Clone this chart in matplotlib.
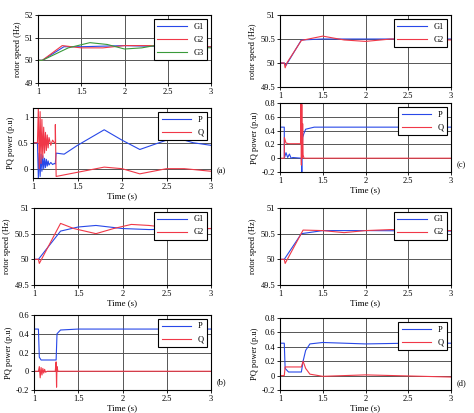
import matplotlib
matplotlib.use("Agg")
import matplotlib.pyplot as plt

plt.rcParams['font.family'] = ['Liberation Serif', 'DejaVu Serif']
plt.rcParams['font.size'] = 6

BLUE = '#2848e8'; RED = '#f03848'; GREEN = '#3a9a3a'

# (a) speed
a_g1_t = [1, 1.05, 1.3, 1.5, 2.0, 2.5, 3.0]
a_g1_v = [50, 50, 50.6, 50.6, 50.65, 50.6, 50.6]
a_g2_t = [1, 1.05, 1.28, 1.5, 1.75, 2.0, 2.3, 2.6, 3.0]
a_g2_v = [50, 50, 50.65, 50.55, 50.55, 50.65, 50.65, 50.55, 50.6]
a_g3_t = [1, 1.05, 1.35, 1.6, 1.8, 2.0, 2.2, 2.45, 2.7, 3.0]
a_g3_v = [50, 50, 50.55, 50.78, 50.7, 50.5, 50.55, 50.72, 50.6, 50.55]
# (a) power
a_p_t = [1, 1.05, 1.06, 1.07, 1.08, 1.09, 1.1, 1.11, 1.12, 1.13, 1.14, 1.15, 1.16, 1.17, 1.18, 1.2, 1.22, 1.24, 1.25, 1.26, 1.35, 1.5, 1.8, 2.0, 2.2, 2.5, 2.6, 2.8, 3.0]
a_p_v = [0.5, 0.5, -0.18, 0.3, -0.15, 0.28, -0.05, 0.25, 0.0, 0.2, 0.02, 0.18, 0.05, 0.15, 0.07, 0.12, 0.08, 0.1, 0.09, 0.3, 0.28, 0.45, 0.75, 0.55, 0.37, 0.55, 0.6, 0.5, 0.45]
a_q_t = [1, 1.05, 1.06, 1.07, 1.08, 1.09, 1.1, 1.11, 1.12, 1.13, 1.14, 1.15, 1.16, 1.17, 1.18, 1.2, 1.22, 1.24, 1.25, 1.251, 1.26, 1.5, 1.8, 2.0, 2.2, 2.5, 2.7, 3.0]
a_q_v = [0.5, 0.5, 1.17, 0.0, 1.1, 0.1, 0.95, 0.2, 0.8, 0.3, 0.7, 0.35, 0.65, 0.4, 0.6, 0.45, 0.55, 0.5, 0.5, 0.85, -0.15, -0.07, 0.03, 0.0, -0.1, 0.0, 0.0, -0.05]

# (c) speed
c_g1_t = [1, 1.05, 1.07, 1.25, 1.5, 3.0]
c_g1_v = [50, 50, 49.95, 50.48, 50.5, 50.5]
c_g2_t = [1, 1.05, 1.06, 1.08, 1.25, 1.5, 1.75, 2.0, 2.3, 3.0]
c_g2_v = [50, 50, 49.9, 50.0, 50.47, 50.56, 50.48, 50.45, 50.5, 50.48]
# (c) power
c_p_t = [1, 1.05, 1.051, 1.07, 1.09, 1.11, 1.13, 1.15, 1.25, 1.255, 1.265, 1.28, 1.3, 1.4, 3.0]
c_p_v = [0.45, 0.45, 0.0, 0.08, 0.01, 0.06, 0.0, 0.01, 0.0, -0.2, 0.3, 0.36, 0.42, 0.45, 0.45]
c_q_t = [1, 1.05, 1.051, 1.07, 1.1, 1.24, 1.245, 1.25, 1.255, 1.26, 1.265, 1.27, 1.28, 1.3, 3.0]
c_q_v = [0.0, 0.0, 0.3, 0.22, 0.21, 0.21, 0.8, -0.1, 0.78, 0.0, 0.5, 0.05, 0.0, 0.0, 0.0]

# (b) speed
b_g1_t = [1, 1.05, 1.3, 1.5, 1.7, 2.0, 2.3, 3.0]
b_g1_v = [50, 50, 50.55, 50.63, 50.66, 50.6, 50.58, 50.6]
b_g2_t = [1, 1.05, 1.06, 1.3, 1.45, 1.7, 1.9, 2.1, 2.3, 2.6, 3.0]
b_g2_v = [50, 50, 49.92, 50.7, 50.6, 50.5, 50.6, 50.68, 50.66, 50.6, 50.6]
# (b) power
b_p_t = [1, 1.05, 1.06, 1.08, 1.23, 1.25, 1.26, 1.3, 1.5, 3.0]
b_p_v = [0.45, 0.45, 0.15, 0.12, 0.12, 0.12, 0.4, 0.44, 0.45, 0.45]
b_q_t = [1, 1.05, 1.06, 1.07, 1.08, 1.09, 1.1, 1.11, 1.12, 1.13, 1.15, 1.24, 1.25, 1.255, 1.26, 1.27, 1.3, 3.0]
b_q_v = [0, 0, 0.05, -0.07, 0.04, -0.04, 0.03, -0.02, 0.02, -0.01, 0, 0, 0.1, -0.17, 0.05, 0, 0, 0]

# (d) speed
d_g1_t = [1, 1.05, 1.25, 1.5, 2.0, 3.0]
d_g1_v = [50, 50, 50.5, 50.56, 50.56, 50.55]
d_g2_t = [1, 1.05, 1.06, 1.27, 1.5, 1.75, 2.0, 2.3, 3.0]
d_g2_v = [50, 50, 49.92, 50.57, 50.56, 50.52, 50.56, 50.58, 50.56]
# (d) power
d_p_t = [1, 1.05, 1.06, 1.1, 1.25, 1.27, 1.3, 1.35, 1.5, 2.0, 2.5, 3.0]
d_p_v = [0.45, 0.45, 0.1, 0.05, 0.05, 0.2, 0.35, 0.44, 0.46, 0.44, 0.45, 0.45]
d_q_t = [1, 1.05, 1.06, 1.25, 1.27, 1.3, 1.35, 1.5, 2.0, 3.0]
d_q_v = [0, 0, 0.12, 0.12, 0.2, 0.1, 0.02, -0.01, 0.01, -0.02]

W, H = 474, 413
fig = plt.figure(figsize=(W/100, H/100), dpi=100)

def ax_px(x0, y0, x1, y1):
    return fig.add_axes([x0/W, 1-y1/H, (x1-x0)/W, (y1-y0)/H])

def style(ax, ylim, yticks, xlabel, ylabel, label=None):
    ax.set_xlim(1, 3); ax.set_ylim(*ylim)
    ax.set_xticks([1, 1.5, 2, 2.5, 3]); ax.set_xticklabels(['1', '1.5', '2', '2.5', '3'])
    ax.set_yticks(yticks)
    ax.set_yticklabels([('%g' % v) for v in yticks])
    ax.grid(True, color='#555555', lw=0.7)
    ax.tick_params(length=2, width=0.6, pad=1.5, labelsize=6)
    for s in ax.spines.values(): s.set_linewidth(0.8)
    if xlabel: ax.set_xlabel('Time (s)', fontsize=6.5, labelpad=1)
    ax.set_ylabel(ylabel, fontsize=6, labelpad=2)
    leg = ax.legend(loc='upper right', fontsize=6, fancybox=False, framealpha=1,
                    edgecolor='black', handlelength=3.5, borderpad=0.4, labelspacing=0.6)
    leg.get_frame().set_linewidth(0.8)
    for t in leg.get_texts(): t.set_ha('right')
    leg._legend_box.align = 'right'
    if label: ax.text(1.03, 0.1, label, transform=ax.transAxes, fontsize=6, va='center')

def speed(ax, series, ylim, yticks, xlabel):
    for (t, v), c, n in series:
        ax.plot(t, v, color=c, lw=0.8, label=n)
    style(ax, ylim, yticks, xlabel, 'rotor speed (Hz)')

def power(ax, p, q, ylim, yticks, label):
    ax.plot(p[0], p[1], color=BLUE, lw=0.8, label='P')
    ax.plot(q[0], q[1], color=RED, lw=0.8, label='Q')
    style(ax, ylim, yticks, True, 'PQ power (p.u)', label)

ax = ax_px(38, 15, 211, 83)
speed(ax, [((a_g1_t, a_g1_v), BLUE, 'G1'), ((a_g2_t, a_g2_v), RED, 'G2'), ((a_g3_t, a_g3_v), GREEN, 'G3')],
      (49, 52), [49, 50, 51, 52], False)
ax = ax_px(33, 108, 211, 178)
power(ax, (a_p_t, a_p_v), (a_q_t, a_q_v), (-0.18, 1.17), [0, 0.5, 1], '(a)')

ax = ax_px(280, 15, 451, 87)
speed(ax, [((c_g1_t, c_g1_v), BLUE, 'G1'), ((c_g2_t, c_g2_v), RED, 'G2')],
      (49.5, 51), [49.5, 50, 50.5, 51], False)
ax = ax_px(280, 103, 451, 172)
power(ax, (c_p_t, c_p_v), (c_q_t, c_q_v), (-0.2, 0.8), [-0.2, 0, 0.2, 0.4, 0.6, 0.8], '(c)')

ax = ax_px(34, 208, 211, 285)
speed(ax, [((b_g1_t, b_g1_v), BLUE, 'G1'), ((b_g2_t, b_g2_v), RED, 'G2')],
      (49.5, 51), [49.5, 50, 50.5, 51], True)
ax = ax_px(34, 315, 211, 390)
power(ax, (b_p_t, b_p_v), (b_q_t, b_q_v), (-0.2, 0.6), [-0.2, 0, 0.2, 0.4, 0.6], '(b)')

ax = ax_px(280, 208, 451, 285)
speed(ax, [((d_g1_t, d_g1_v), BLUE, 'G1'), ((d_g2_t, d_g2_v), RED, 'G2')],
      (49.5, 51), [49.5, 50, 50.5, 51], True)
ax = ax_px(280, 318, 451, 390)
power(ax, (d_p_t, d_p_v), (d_q_t, d_q_v), (-0.2, 0.8), [-0.2, 0, 0.2, 0.4, 0.6, 0.8], '(d)')

fig.savefig('out.png', dpi=100)
